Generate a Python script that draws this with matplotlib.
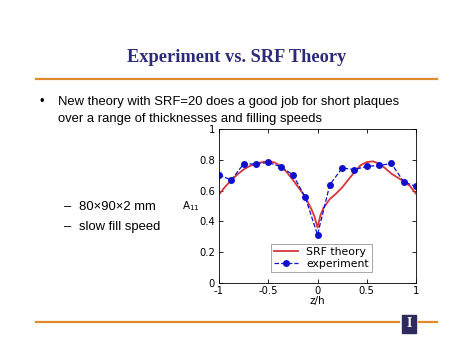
import numpy as np
import matplotlib
matplotlib.use("Agg")
import matplotlib.pyplot as plt

# experiment points
z_exp = [-1, -0.875, -0.75, -0.625, -0.5, -0.375, -0.25, -0.125, 0,
         0.125, 0.25, 0.375, 0.5, 0.625, 0.75, 0.875, 1]
a_exp = [0.703, 0.668, 0.774, 0.772, 0.783, 0.755, 0.703, 0.558, 0.313,
         0.638, 0.746, 0.737, 0.757, 0.763, 0.776, 0.657, 0.627]

# SRF theory curve
z_srf = [-1, -0.9375, -0.875, -0.8125, -0.75, -0.6875, -0.625, -0.5625, -0.5,
         -0.4375, -0.375, -0.3125, -0.25, -0.1875, -0.125, -0.0625, -0.03, 0,
         0.03, 0.0625, 0.125, 0.1875, 0.25, 0.3125, 0.375, 0.4375, 0.5,
         0.5625, 0.625, 0.6875, 0.75, 0.8125, 0.875, 0.9375, 1]
a_srf = [0.575, 0.625, 0.668, 0.705, 0.737, 0.76, 0.775, 0.785, 0.79,
         0.783, 0.76, 0.72, 0.67, 0.615, 0.56, 0.48, 0.43, 0.36,
         0.44, 0.49, 0.545, 0.58, 0.62, 0.67, 0.72, 0.765, 0.785,
         0.79, 0.775, 0.745, 0.71, 0.685, 0.66, 0.63, 0.58]

title = "Experiment vs. SRF Theory"
bullet = ["New theory with SRF=20 does a good job for short plaques",
          "over a range of thicknesses and filling speeds"]
subs = ["80\u00d790\u00d72 mm", "slow fill speed"]

W, H = 474, 355
fig = plt.figure(figsize=(W / 100, H / 100), dpi=100)
fig.patch.set_facecolor("white")

def fx(px):
    return px / W

def fy(py):
    return 1 - py / H

# slide decorations
fig.text(fx(237), fy(57), title, ha="center", va="center", fontsize=13.2,
         fontweight="bold", family="Liberation Serif", color="#2b2b7a")
fig.add_artist(plt.Line2D([fx(36), fx(437)], [fy(79), fy(79)], color="#e08a2e", lw=1.6))
fig.text(fx(40), fy(102), "\u2022", ha="left", va="center", fontsize=9.4, family="Liberation Sans")
fig.text(fx(58), fy(102), bullet[0], ha="left", va="center", fontsize=9.4, family="Liberation Sans")
fig.text(fx(58), fy(119), bullet[1], ha="left", va="center", fontsize=9.4, family="Liberation Sans")
for i, s in enumerate(subs):
    yy = fy(207 + i * 20)
    fig.text(fx(64), yy, "\u2013", ha="left", va="center", fontsize=9.4, family="Liberation Sans")
    fig.text(fx(79), yy, s, ha="left", va="center", fontsize=9.4, family="Liberation Sans")

fig.add_artist(plt.Line2D([fx(36), fx(399)], [fy(322), fy(322)], color="#e08a2e", lw=1.6))
fig.add_artist(plt.Line2D([fx(419), fx(437)], [fy(322), fy(322)], color="#e08a2e", lw=1.6))
fig.add_artist(plt.Rectangle((fx(402), fy(333)), fx(14), 18 / H, color="#2e2a5e"))
fig.text(fx(409), fy(323.5), "I", ha="center", va="center", fontsize=10,
         fontweight="bold", family="Liberation Serif", color="white")

# chart
ax = fig.add_axes([219 / W, 1 - 283 / H, 197 / W, 154 / H])
ax.plot(z_srf, a_srf, color="#d8343a", lw=1.3, label="SRF theory")
ax.plot(z_exp, a_exp, color="#1010cc", lw=0.9, ls="--", marker="o", ms=4,
        label="experiment")
ax.set_xlim(-1, 1)
ax.set_ylim(0, 1)
ax.set_xticks([-1, -0.5, 0, 0.5, 1])
ax.set_xticklabels(["-1", "-0.5", "0", "0.5", "1"])
ax.set_yticks([0, 0.2, 0.4, 0.6, 0.8, 1])
ax.set_yticklabels(["0", "0.2", "0.4", "0.6", "0.8", "1"])
ax.tick_params(direction="in", top=True, right=True, labelsize=7.2, length=3, width=0.6)
ax.tick_params(axis="x", pad=2.5)
ax.tick_params(axis="y", pad=3)
for sp in ax.spines.values():
    sp.set_linewidth(0.6)
ax.set_xlabel("z/h", fontsize=7.5, labelpad=0)
ax.set_ylabel("A$_{11}$", fontsize=7.5, rotation=0, labelpad=6, va="center")
leg = ax.legend(loc="lower center", fontsize=7.8, frameon=True, fancybox=False,
                edgecolor="#999999", framealpha=1, borderpad=0.3, labelspacing=0.2,
                handlelength=2.2, bbox_to_anchor=(0.52, 0.035))
leg.get_frame().set_linewidth(0.6)

fig.savefig("out.png", dpi=100)
